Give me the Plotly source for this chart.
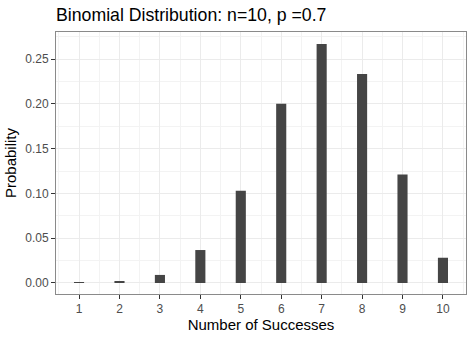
import plotly.graph_objects as go

successes = [1, 2, 3, 4, 5, 6, 7, 8, 9, 10]
probability = [0.00014, 0.0014, 0.009, 0.0368, 0.1029, 0.2001, 0.2668, 0.2335, 0.1211, 0.0282]
y_ticks = [0.0, 0.05, 0.10, 0.15, 0.20, 0.25]
y_tick_labels = ["0.00", "0.05", "0.10", "0.15", "0.20", "0.25"]

fig = go.Figure()
fig.add_trace(go.Bar(
    x=successes, y=probability, width=0.25,
    marker=dict(color="#454545", line=dict(width=0)),
))

font_family = "Liberation Sans, Arial, sans-serif"
fig.update_layout(
    width=474, height=338,
    margin=dict(l=56, r=8, t=32, b=44),
    paper_bgcolor="white", plot_bgcolor="white",
    showlegend=False,
    font=dict(family=font_family, color="#000000"),
    title=dict(text="Binomial Distribution: n=10, p =0.7", x=56/474, xanchor="left",
               y=1 - 15/338, yanchor="middle", font=dict(size=17.7, color="#000000")),
    xaxis=dict(
        range=[0.43, 10.57], tickmode="array", tickvals=successes,
        ticktext=[str(s) for s in successes],
        showgrid=True, gridcolor="#EBEBEB", gridwidth=1,
        minor=dict(showgrid=True, gridcolor="#F3F3F3", gridwidth=0.5, tickmode="array",
                   tickvals=[s + 0.5 for s in [0] + successes]),
        ticks="outside", ticklen=4, tickwidth=1, tickcolor="#333333",
        tickfont=dict(size=12, color="#4D4D4D"),
        showline=True, mirror=True, linecolor="#8A8A8A", linewidth=1,
        zeroline=False,
        title=dict(text="Number of Successes", font=dict(size=15, color="#000000"), standoff=4),
    ),
    yaxis=dict(
        range=[-0.0123, 0.2803], tickmode="array", tickvals=y_ticks, ticktext=y_tick_labels,
        showgrid=True, gridcolor="#EBEBEB", gridwidth=1,
        minor=dict(showgrid=True, gridcolor="#F3F3F3", gridwidth=0.5, tickmode="array",
                   tickvals=[0.025, 0.075, 0.125, 0.175, 0.225, 0.275]),
        ticks="outside", ticklen=4, tickwidth=1, tickcolor="#333333",
        tickfont=dict(size=12, color="#4D4D4D"),
        showline=True, mirror=True, linecolor="#8A8A8A", linewidth=1,
        zeroline=False,
        title=dict(text="Probability", font=dict(size=15, color="#000000"), standoff=4),
    ),
)

fig.write_html("out.html")
